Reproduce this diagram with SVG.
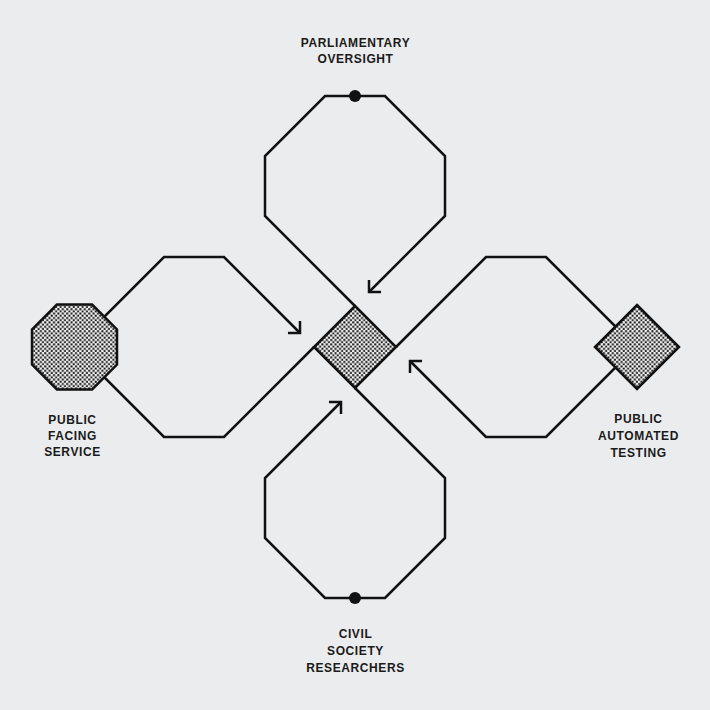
<svg xmlns="http://www.w3.org/2000/svg" width="710" height="710" viewBox="0 0 710 710">
  <defs>
    <pattern id="dots" width="4.4" height="4.4" patternUnits="userSpaceOnUse">
      <rect width="4.4" height="4.4" fill="#f2f2f2"/>
      <rect x="0.2" y="0.2" width="2" height="2" fill="#111"/>
      <rect x="2.4" y="2.4" width="1.9" height="1.9" fill="#111"/>
    </pattern>
    <marker id="arr" viewBox="-15 -15 30 30" markerWidth="30" markerHeight="30" refX="0" refY="0" orient="auto" markerUnits="userSpaceOnUse">
      <path d="M-8.5,-8.5 L0,0 L-8.5,8.5" fill="none" stroke="#111" stroke-width="2.5" stroke-linejoin="miter"/>
    </marker>
    <style>
      .ln { fill: none; stroke: #111; stroke-width: 2.5; stroke-linejoin: miter; }
      .node { fill: url(#dots); stroke: #111; stroke-width: 2.5; }
      .dot { fill: #111; }
      .lbl { font-family: "Liberation Sans", Arial, sans-serif; font-weight: bold; font-size: 12px; letter-spacing: 0.6px; fill: #1a1a1a; text-anchor: middle; }
    </style>
  </defs>
  <rect width="710" height="710" fill="#ebecee"/>

  <g id="connectors">
    <path class="ln" d="M355,306 L265,216 L265,156 L325,96 L385,96 L445,156 L445,216 L369,292" marker-end="url(#arr)"/>
    <path class="ln" d="M396,347 L486,257 L546,257 L636,347 L546,437 L486,437 L410,361" marker-end="url(#arr)"/>
    <path class="ln" d="M355,388 L445,478 L445,538 L385,598 L325,598 L265,538 L265,478 L341,402" marker-end="url(#arr)"/>
    <path class="ln" d="M314,347 L224,437 L164,437 L74,347 L164,257 L224,257 L300,333" marker-end="url(#arr)"/>
  </g>

  <g id="center-hub">
    <polygon class="node" points="355,306 396,347 355,388 314,347"/>
  </g>

  <g id="parliamentary-oversight">
    <circle class="dot" cx="355" cy="96" r="6"/>
    <text class="lbl" x="355.5" y="47">PARLIAMENTARY</text>
    <text class="lbl" x="355.5" y="63">OVERSIGHT</text>
  </g>

  <g id="public-facing-service">
    <polygon class="node" points="56.9,304.5 92.1,304.5 117,329.4 117,364.6 92.1,389.5 56.9,389.5 32,364.6 32,329.4"/>
    <text class="lbl" x="72.5" y="424">PUBLIC</text>
    <text class="lbl" x="72.5" y="440">FACING</text>
    <text class="lbl" x="72.5" y="456">SERVICE</text>
  </g>

  <g id="public-automated-testing">
    <polygon class="node" points="637,305 679,347 637,389 595,347"/>
    <text class="lbl" x="638.5" y="423">PUBLIC</text>
    <text class="lbl" x="638.5" y="440">AUTOMATED</text>
    <text class="lbl" x="638.5" y="457">TESTING</text>
  </g>

  <g id="civil-society-researchers">
    <circle class="dot" cx="355" cy="598" r="6"/>
    <text class="lbl" x="355.5" y="638">CIVIL</text>
    <text class="lbl" x="355.5" y="655">SOCIETY</text>
    <text class="lbl" x="355.5" y="672">RESEARCHERS</text>
  </g>
</svg>
